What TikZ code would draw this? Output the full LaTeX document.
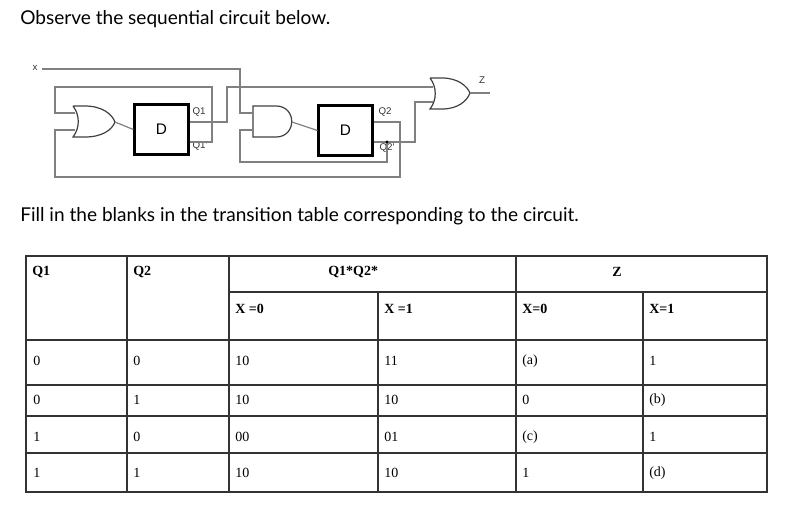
\documentclass[tikz,border=0pt]{standalone}
\usepackage{fontspec}
\setmainfont{Liberation Serif}
\newfontfamily\lato{Lato}
\newfontfamily\arial{Liberation Sans}
\begin{document}
\begin{tikzpicture}[x=0.75pt,y=-0.75pt,
  wire/.style={draw=black!50,line width=0.9pt},
  gate/.style={draw=black!75,line width=0.9pt},
  ff/.style={draw=black,line width=2.2pt,minimum width=40pt,minimum height=38pt,inner sep=0pt,font=\arial\fontsize{11.5}{13}\selectfont},
  lbl/.style={font=\arial\fontsize{7.3}{8}\selectfont,inner sep=0pt,text=black!80},
  grid/.style={draw=black!80,line width=0.8pt},
  th/.style={font=\bfseries\fontsize{10.5}{12}\selectfont,anchor=west,inner sep=0pt},
  td/.style={font=\fontsize{10.5}{12}\selectfont,anchor=west,inner sep=0pt},
  head/.style={font=\lato\fontsize{14.3}{17}\selectfont,anchor=west,inner sep=0pt}]
\useasboundingbox (0,0) rectangle (790,524);
\node[head] (t1) at (20,19) {Observe the sequential circuit below.};
\node[head] (t2) at (20,216) {Fill in the blanks in the transition table corresponding to the circuit.};
% circuit
\node[ff] (d1) at (161.5,129.5) {D};
\node[ff] (d2) at (345.5,130.5) {D};
\node[lbl] (lx) at (35,68) {x};
\node[lbl] (lq1) at (199,112) {Q1};
\node[lbl] (lq1n) at (200,146) {Q1'};
\node[lbl] (lq2) at (385,112) {Q2};
\node[lbl] (lq2n) at (387,148) {Q2'};
\node[lbl] (lz) at (482,80) {Z};
% OR1
\draw[gate] (73,106) -- (85,106) .. controls (102,106) and (112,114) .. (115,122) .. controls (112,130) and (102,137) .. (85,137) -- (73,137) .. controls (80,128) and (80,115) .. (73,106);
% AND
\draw[gate] (253,106) -- (276,106) .. controls (297,106) and (297,137) .. (276,137) -- (253,137) -- cycle;
% OR2
\draw[gate] (430,78) -- (442,78) .. controls (458,78) and (467,86) .. (470,93) .. controls (467,101) and (458,109) .. (442,109) -- (430,109) .. controls (437,100) and (437,87) .. (430,78);
% wires
\draw[wire] (42,69) -- (240,69) -- (240,113) -- (253,113);
\draw[wire] (115,122) -- (d1.west);
\draw[wire] (d1.east|-142,142) -- (212,142) -- (212,87) -- (55,87) -- (55,113) -- (75,113);
\draw[wire] (d1.east|-122,122) -- (227,122) -- (227,87) -- (433,87);
\draw[wire] (75,130) -- (55,130) -- (55,177) -- (400,177) -- (400,122) -- (d2.east|-122,122);
\draw[wire] (292,122) -- (d2.west);
\draw[wire] (253,130) -- (240,130) -- (240,162) -- (387,162) -- (387,142);
\draw[wire] (d2.east|-142,142) -- (415,142) -- (415,102) -- (433,102);
\draw[wire] (470,93) -- (490,93);
\fill (387,142) circle (1.6);
% table
\draw[grid] (26,256) rectangle (767,492);
\foreach \y in {340,385,416,453} \draw[grid] (26,\y) -- (767,\y);
\draw[grid] (229,292) -- (767,292);
\foreach \x in {127,229,516} \draw[grid] (\x,256) -- (\x,492);
\foreach \x in {378,643} \draw[grid] (\x,292) -- (\x,492);
\node[th] (h1) at (32,272) {Q1};
\node[th] (h2) at (133,272) {Q2};
\node[th] (h3) at (328,272) {Q1*Q2*};
\node[th] (h4) at (612,272) {Z};
\node[th] (s1) at (235,309) {X =0};
\node[th] (s2) at (384,309) {X =1};
\node[th] (s3) at (522,309) {X=0};
\node[th] (s4) at (649,309) {X=1};
\foreach \r/\y/\a/\b/\c/\d/\e/\f in {1/361/0/0/10/11/(a)/1, 2/400/0/1/10/10/0/(b), 3/437/1/0/00/01/(c)/1, 4/473/1/1/10/10/1/(d)}{
  \node[td] (a\r) at (33,\y) {\a};
  \node[td] (b\r) at (133,\y) {\b};
  \node[td] (c\r) at (235,\y) {\c};
  \node[td] (e\r) at (384,\y) {\d};
  \node[td] (f\r) at (522,\y) {\e};
  \node[td] (g\r) at (649,\y) {\f};
}
\end{tikzpicture}
\end{document}
